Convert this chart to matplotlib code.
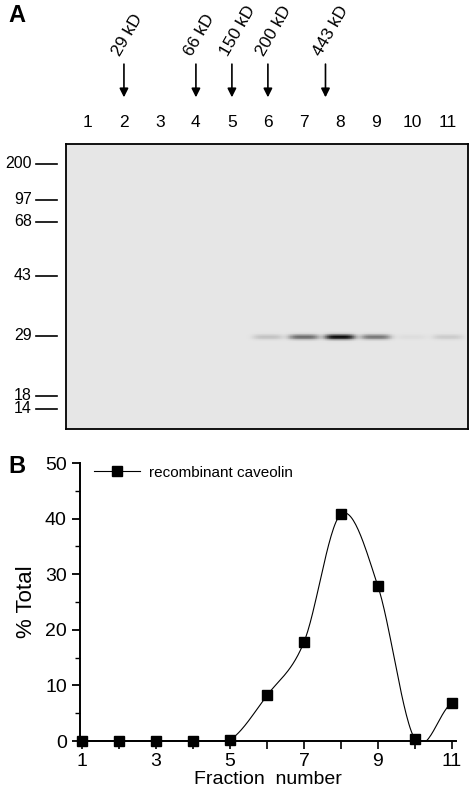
import matplotlib

matplotlib.use("Agg")
import matplotlib.pyplot as plt
import matplotlib.transforms as mtransforms
import numpy as np

plt.rcParams["font.family"] = ["Liberation Sans", "DejaVu Sans"]

# panel A: blot
lanes = list(range(1, 12))
mw_markers = [200, 97, 68, 43, 29, 18, 14]
mw_migration = [20, 56, 78, 132, 192, 252, 265]  # distance from gel top
std_labels = ["29 kD", "66 kD", "150 kD", "200 kD", "443 kD"]
std_lanes = [2, 4, 5, 6, 7.6]
band_lanes = [6, 7, 8, 9, 10, 11]
band_strength = [0.16, 0.55, 1.0, 0.5, 0.04, 0.12]
band_migration = 193

# panel B: profile
fraction = [1, 2, 3, 4, 5, 6, 7, 8, 9, 10, 11]
pct_total = [0.0, 0.0, 0.0, 0.0, 0.2, 8.2, 17.8, 40.8, 27.8, 0.3, 6.8]

fig = plt.figure(figsize=(4.74, 7.97), dpi=100)

# ---- A ----
ax = fig.add_axes([66 / 474, 1 - 429 / 797, 402 / 474, 285 / 797])
xlim = (0.39, 11.56)
ylim = (285, 0)
xs = np.linspace(0.39, 11.56, 600)
ys = np.linspace(0, 285, 400)
X, Y = np.meshgrid(xs, ys)
img = np.zeros_like(X)
for ln, s in zip(band_lanes, band_strength):
    img += s * np.exp(-((X - ln) / 0.42) ** 4) * np.exp(-((Y - band_migration) / 2.6) ** 2)
img = np.clip(img, 0, 1)
gray = 0.90 - 0.85 * img
ax.pcolormesh(X, Y, gray, cmap="gray", vmin=0, vmax=1, shading="auto", rasterized=True)
ax.set_xlim(*xlim)
ax.set_ylim(*ylim)
ax.set_xticks([])
ax.set_yticks([])
for sp in ax.spines.values():
    sp.set_linewidth(1.3)

trans = mtransforms.blended_transform_factory(ax.transAxes, ax.transData)
for m, pos in zip(mw_markers, mw_migration):
    ax.plot([-0.075, -0.022], [pos, pos], color="black", lw=1.2, transform=trans, clip_on=False)
    ax.text(-0.085, pos, str(m), ha="right", va="center", fontsize=11.5, transform=trans)

trans2 = mtransforms.blended_transform_factory(ax.transData, ax.transAxes)
for ln in lanes:
    ax.text(ln, 1.075, str(ln), ha="center", va="center", fontsize=12.5, transform=trans2)
for lab, ln in zip(std_labels, std_lanes):
    ax.annotate("", xy=(ln, 1.154), xytext=(ln, 1.29), xycoords=trans2, textcoords=trans2,
                arrowprops=dict(arrowstyle="-|>", color="black", lw=1.2, mutation_scale=13),
                annotation_clip=False)
    ax.text(ln - 0.05, 1.30, lab, rotation=60, ha="left", va="bottom", fontsize=12.5,
            rotation_mode="anchor", transform=trans2)

fig.text(8 / 474, 1 - 16 / 797, "A", fontsize=17, fontweight="bold", va="center")

# ---- B ----
bx = fig.add_axes([80 / 474, 1 - 741 / 797, 376 / 474, 278 / 797])


def catmull(x, y, n=30):
    x = np.asarray(x, float)
    y = np.asarray(y, float)
    px = np.concatenate([[2 * x[0] - x[1]], x, [2 * x[-1] - x[-2]]])
    py = np.concatenate([[y[0]], y, [y[-1]]])
    ox, oy = [], []
    t = np.linspace(0, 1, n, endpoint=False)
    for i in range(1, len(px) - 2):
        p0, p1, p2, p3 = py[i - 1], py[i], py[i + 1], py[i + 2]
        q1, q2 = px[i], px[i + 1]
        ox.append(q1 + (q2 - q1) * t)
        oy.append(0.5 * ((2 * p1) + (-p0 + p2) * t + (2 * p0 - 5 * p1 + 4 * p2 - p3) * t ** 2
                         + (-p0 + 3 * p1 - 3 * p2 + p3) * t ** 3))
    ox.append([x[-1]])
    oy.append([y[-1]])
    return np.concatenate(ox), np.concatenate(oy)


cx, cy = catmull(fraction, pct_total)
bx.plot(cx, np.maximum(cy, 0), color="black", lw=0.8, clip_on=False)
bx.plot(fraction, pct_total, ls="none", marker="s", ms=7, color="black", clip_on=False, zorder=5)
bx.plot([], [], color="black", lw=0.8, marker="s", ms=7, label="recombinant caveolin")
bx.legend(loc="upper left", bbox_to_anchor=(0.0, 1.04), frameon=False, handlelength=3.0,
          fontsize=11, handletextpad=0.6)

bx.set_xlim(1 - 2 / 37, 11 + 4 / 37)
bx.set_ylim(0, 50)
bx.spines["top"].set_visible(False)
bx.spines["right"].set_visible(False)
bx.spines["left"].set_linewidth(1.4)
bx.spines["bottom"].set_linewidth(1.4)
bx.set_xticks(range(1, 12))
bx.set_xticklabels([str(i) if i % 2 else "" for i in range(1, 12)], fontsize=14)
bx.set_yticks(range(0, 51, 10))
bx.set_yticks(range(5, 50, 10), minor=True)
bx.tick_params(axis="y", labelsize=14, length=6, width=1.3)
bx.tick_params(axis="y", which="minor", length=3.5, width=1.0)
bx.tick_params(axis="x", length=6, width=1.2, pad=3)
bx.set_xlabel("Fraction  number", fontsize=14, labelpad=0)
bx.set_ylabel("% Total", fontsize=16, labelpad=6)

fig.text(8 / 474, 1 - 466 / 797, "B", fontsize=17, fontweight="bold", va="center")

fig.savefig("out.png", dpi=100, facecolor="white")
